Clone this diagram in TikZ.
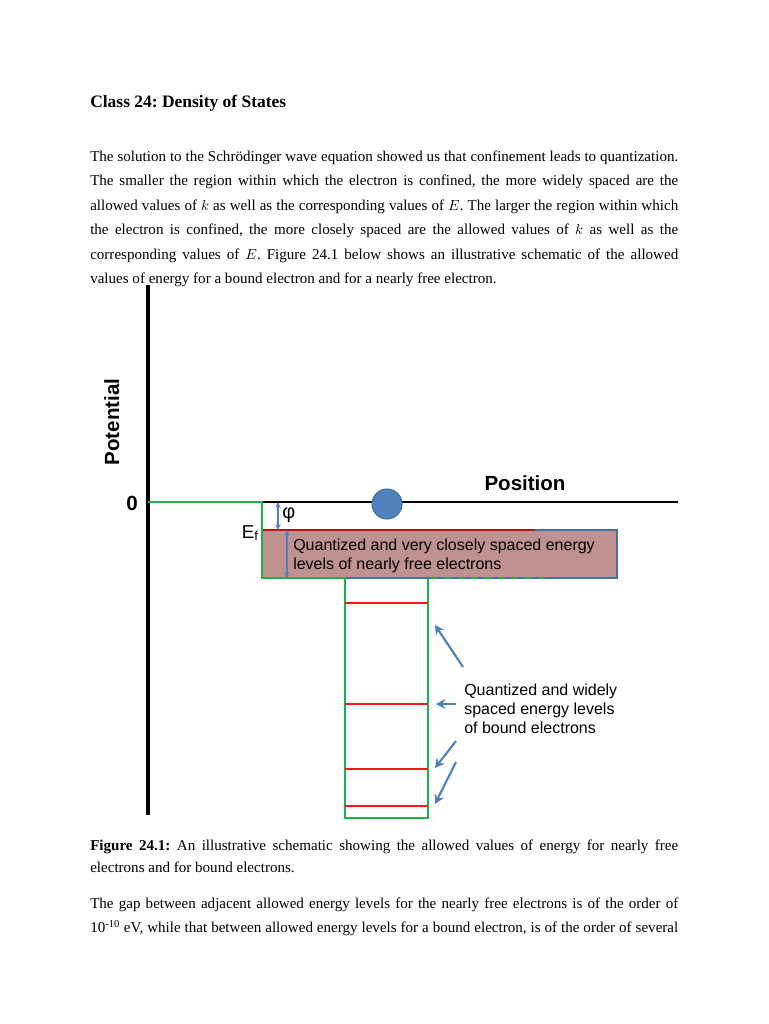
\documentclass[tikz,border=0pt]{standalone}
\usepackage{fontspec}
\setmainfont{Liberation Serif}
\newfontfamily\arial{Liberation Sans}
\usetikzlibrary{arrows.meta}
\definecolor{wellgreen}{HTML}{1DB14B}
\definecolor{lvlred}{HTML}{F21C1C}
\definecolor{bandfill}{HTML}{C09191}
\definecolor{blu}{HTML}{4F81BD}
\definecolor{bluedge}{HTML}{41719C}
\newcommand{\bodyfont}{\fontsize{11.29}{18.4}\selectfont}
\newcommand{\labfont}{\arial\fontsize{12}{14}\selectfont}
\newcommand{\jl}[1]{\makebox[441pt][s]{#1}}
\frenchspacing

\begin{document}
\begin{tikzpicture}[x=0.75pt, y=-0.75pt, >=Stealth,
  pline/.style={anchor=base west, inner sep=0pt, font=\bodyfont},
  lab/.style={anchor=base west, inner sep=0pt, align=left, font=\labfont},
  axisbold/.style={inner sep=0pt, font=\arial\bfseries\fontsize{15.4}{18}\selectfont},
  well/.style={wellgreen, line width=2.2pt},
  level/.style={lvlred, line width=1.8pt},
  pointer/.style={->, blu, line width=1.6pt, >={Stealth[length=7pt,width=7.5pt]}},
  gap/.style={<->, blu, line width=0.9pt, >={Stealth[length=4.5pt,width=4pt]}}]
  \useasboundingbox (0,0) rectangle (768,1024);
  % page text
  \node[pline, font=\bfseries\fontsize{13.1}{16}\selectfont] (title) at (90,108) {Class 24: Density of States};
  \node[pline] (p1) at (90,161) {\jl{The solution to the Schrödinger wave equation showed us that confinement leads to quantization.}};
  \node[pline] (p2) at (90,185.5) {\jl{The smaller the region within which the electron is confined, the more widely spaced are the}};
  \node[pline] (p3) at (90,210) {\jl{allowed values of $k$ as well as the corresponding values of $E$. The larger the region within which}};
  \node[pline] (p4) at (90,234.5) {\jl{the electron is confined, the more closely spaced are the allowed values of $k$ as well as the}};
  \node[pline] (p5) at (90,259) {\jl{corresponding values of $E$. Figure 24.1 below shows an illustrative schematic of the allowed}};
  \node[pline] (p6) at (90,283.5) {values of energy for a bound electron and for a nearly free electron.};
  % axes
  \draw[line width=2.3pt] (148,285) -- (148,815);
  \draw[line width=1.6pt] (148,502) -- (678,502);
  \node[axisbold, rotate=90, anchor=base] (pot) at (119,422) {Potential};
  \node[axisbold, anchor=base] (zero) at (132,510) {0};
  \node[axisbold, anchor=base] (pos) at (525,490) {Position};
  % band of nearly free electrons
  \fill[bandfill] (262,530) rectangle (617,578);
  \draw[bluedge, line width=1.4pt] (535,530) -- (617,530) -- (617,578) -- (262,578);
  \draw[lvlred!75!black, line width=1.4pt] (262,530) -- (535,530);
  % potential well
  \draw[well] (148,502) -- (262,502) -- (262,578) -- (345,578) -- (345,818) -- (428,818) -- (428,578);
  \draw[well, dash pattern=on 5.5pt off 4.5pt] (431,578) -- (548,578);
  \foreach \y in {603,704,769,806}
    \draw[level] (345,\y) -- (428,\y);
  \node[circle, fill=blu, draw=bluedge, line width=0.8pt, minimum size=22.5pt, inner sep=0pt] (electron) at (387,504) {};
  % work function and band width
  \coordinate (phitop) at (278,502);
  \coordinate (phibot) at (278,530);
  \draw[gap] (phitop) -- (phibot);
  \node[inner sep=0pt, font=\arial\fontsize{15}{15}\selectfont, anchor=west] (phi) at (282,515) {φ};
  \node[inner sep=0pt, font=\arial\fontsize{14}{14}\selectfont, anchor=base east] (ef) at (259,538) {E\textsubscript{f}};
  \coordinate (bandtop) at (287,530);
  \coordinate (bandbot) at (287,578);
  \draw[gap] (bandtop) -- (bandbot);
  \node[lab] (freelab) at (293,569) {Quantized and very closely spaced energy\\levels of nearly free electrons};
  % bound levels
  \node[lab] (boundlab) at (464,733) {Quantized and widely\\spaced energy levels\\of bound electrons};
  \coordinate (a1) at (463,667); \coordinate (t1) at (435,625);
  \coordinate (a2) at (456,704); \coordinate (t2) at (436,704);
  \coordinate (a3) at (456,741); \coordinate (t3) at (435,768);
  \coordinate (a4) at (456,762); \coordinate (t4) at (435,804);
  \foreach \i in {1,...,4}
    \draw[pointer] (a\i) -- (t\i);
  % caption and text below
  \node[pline] (cap1) at (90,850) {\jl{\textbf{Figure 24.1:} An illustrative schematic showing the allowed values of energy for nearly free}};
  \node[pline] (cap2) at (90,872) {electrons and for bound electrons.};
  \node[pline] (q1) at (90,908.5) {\jl{The gap between adjacent allowed energy levels for the nearly free electrons is of the order of}};
  \node[pline] (q2) at (90,932.5) {\jl{10\textsuperscript{-10} eV, while that between allowed energy levels for a bound electron, is of the order of several}};
\end{tikzpicture}
\end{document}
